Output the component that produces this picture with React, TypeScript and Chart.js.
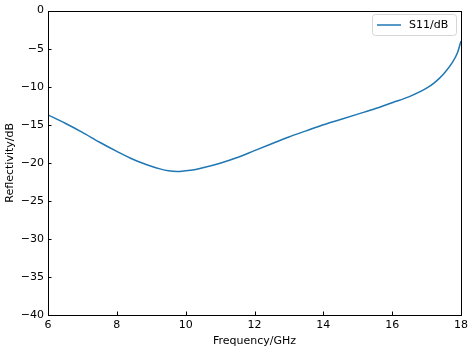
import React, { useEffect, useRef } from "react";
import { Chart, registerables } from "chart.js";

Chart.register(...registerables);

const frequency = [6, 6.5, 7, 7.5, 8, 8.5, 9, 9.25, 9.5, 9.75, 10, 10.25, 10.5, 11, 11.5, 12, 12.5, 13, 13.5, 14, 14.5, 15, 15.5, 16, 16.5, 17, 17.25, 17.5, 17.75, 17.9, 18];
const s11 = [-13.7, -14.8, -16.0, -17.3, -18.5, -19.6, -20.45, -20.8, -21.05, -21.15, -21.05, -20.9, -20.65, -20.05, -19.3, -18.4, -17.5, -16.6, -15.8, -15.0, -14.3, -13.6, -12.9, -12.1, -11.3, -10.2, -9.4, -8.3, -6.8, -5.5, -4.0];
const xTicks = [6, 8, 10, 12, 14, 16, 18];
const yTicks = [0, -5, -10, -15, -20, -25, -30, -35, -40];
const seriesLabel = "S11/dB";
const xTitle = "Frequency/GHz";
const yTitle = "Reflectivity/dB";

const FONT = "DejaVu Sans";
const FS = 11;
const LINE = "#1f77b4";

const fmt = (v: number) => (v < 0 ? "\u2212" + Math.abs(v) : String(v));

const framePlugin = {
  id: "frame",
  afterDraw(chart: any) {
    const { ctx, chartArea: a, scales } = chart;
    const xs = scales.x;
    const ys = scales.y;
    ctx.save();
    ctx.strokeStyle = "#000";
    ctx.lineWidth = 1;
    ctx.strokeRect(Math.round(a.left) + 0.5, Math.round(a.top) + 0.5, Math.round(a.right - a.left), Math.round(a.bottom - a.top));
    xTicks.forEach((t) => {
      const px = Math.round(xs.getPixelForValue(t)) + 0.5;
      ctx.beginPath();
      ctx.moveTo(px, a.bottom);
      ctx.lineTo(px, a.bottom - 3.5);
      ctx.stroke();
    });
    yTicks.forEach((t) => {
      const py = Math.round(ys.getPixelForValue(t)) + 0.5;
      ctx.beginPath();
      ctx.moveTo(a.left, py);
      ctx.lineTo(a.left + 3.5, py);
      ctx.stroke();
    });
    ctx.fillStyle = "#000";
    ctx.font = `${FS}px "${FONT}"`;
    ctx.textAlign = "center";
    ctx.textBaseline = "middle";
    ctx.fillText(xTitle, (a.left + a.right) / 2, 341);
    ctx.save();
    ctx.translate(10, (a.top + a.bottom) / 2);
    ctx.rotate(-Math.PI / 2);
    ctx.fillText(yTitle, 0, 0);
    ctx.restore();
    // legend
    const bx = 372.5, by = 14.5, bw = 84, bh = 21, r = 3;
    ctx.beginPath();
    ctx.moveTo(bx + r, by);
    ctx.lineTo(bx + bw - r, by);
    ctx.quadraticCurveTo(bx + bw, by, bx + bw, by + r);
    ctx.lineTo(bx + bw, by + bh - r);
    ctx.quadraticCurveTo(bx + bw, by + bh, bx + bw - r, by + bh);
    ctx.lineTo(bx + r, by + bh);
    ctx.quadraticCurveTo(bx, by + bh, bx, by + bh - r);
    ctx.lineTo(bx, by + r);
    ctx.quadraticCurveTo(bx, by, bx + r, by);
    ctx.closePath();
    ctx.fillStyle = "rgba(255,255,255,0.8)";
    ctx.fill();
    ctx.strokeStyle = "#d6d6d6";
    ctx.stroke();
    ctx.strokeStyle = LINE;
    ctx.lineWidth = 1.5;
    ctx.beginPath();
    ctx.moveTo(377, 25);
    ctx.lineTo(401, 25);
    ctx.stroke();
    ctx.fillStyle = "#000";
    ctx.textAlign = "left";
    ctx.fillText(seriesLabel, 409, 25);
    ctx.restore();
  },
};

export default function App() {
  const ref = useRef<HTMLCanvasElement>(null);
  useEffect(() => {
    document.body.style.margin = "0";
    const chart = new Chart(ref.current!, {
      type: "line",
      data: {
        datasets: [
          {
            label: seriesLabel,
            data: frequency.map((f, i) => ({ x: f, y: s11[i] })),
            borderColor: LINE,
            borderWidth: 1.5,
            pointRadius: 0,
            cubicInterpolationMode: "monotone",
            fill: false,
          },
        ],
      },
      options: {
        animation: false,
        responsive: false,
        events: [],
        layout: { padding: { top: 8, right: 13, left: 0, bottom: 0 } },
        plugins: { legend: { display: false }, tooltip: { enabled: false } },
        scales: {
          x: {
            type: "linear",
            min: 6,
            max: 18,
            grid: { display: false, drawTicks: false },
            border: { display: false },
            afterBuildTicks: (s: any) => {
              s.ticks = xTicks.map((v) => ({ value: v }));
            },
            afterFit: (s: any) => {
              s.height = 37;
            },
            ticks: {
              padding: 4,
              color: "#000",
              font: { family: FONT, size: FS },
              maxRotation: 0,
              callback: (v: any) => fmt(Number(v)),
            },
          },
          y: {
            type: "linear",
            min: -40,
            max: 0,
            grid: { display: false, drawTicks: false },
            border: { display: false },
            afterBuildTicks: (s: any) => {
              s.ticks = yTicks.map((v) => ({ value: v }));
            },
            afterFit: (s: any) => {
              s.width = 48;
            },
            ticks: {
              padding: 4,
              color: "#000",
              font: { family: FONT, size: FS },
              callback: (v: any) => fmt(Number(v)),
            },
          },
        },
      },
      plugins: [framePlugin],
    });
    return () => chart.destroy();
  }, []);
  return (
    <div style={{ width: 474, height: 352, background: "#fff" }}>
      <canvas ref={ref} width={474} height={352} style={{ display: "block" }} />
    </div>
  );
}
